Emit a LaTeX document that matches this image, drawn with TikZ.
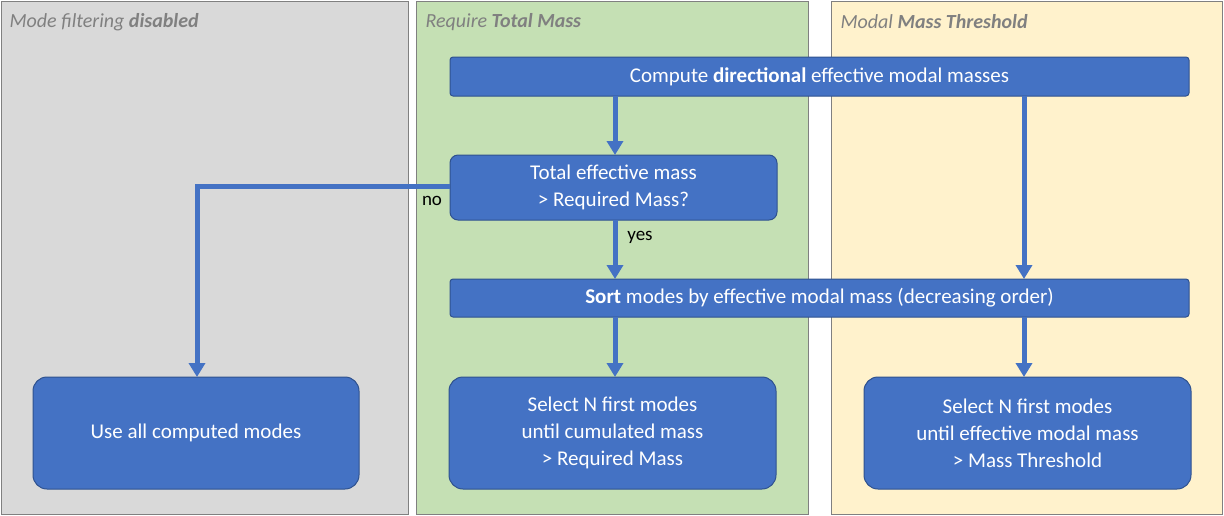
\documentclass[tikz,border=0pt]{standalone}
\usepackage{fontspec}
\setmainfont{Carlito}
\usetikzlibrary{arrows.meta}
\definecolor{bluebox}{HTML}{4472C4}
\definecolor{blueedge}{HTML}{2F528F}
\begin{document}
\begin{tikzpicture}[x=1pt,y=-1pt,
  panel/.style={draw=black!50,line width=0.8pt},
  ptitle/.style={anchor=west,text=black!50,font=\fontsize{20}{24}\selectfont\itshape},
  box/.style={draw=blueedge,fill=bluebox,line width=1pt,text=white,align=center,font=\fontsize{21}{27}\selectfont,inner sep=0pt},
  arr/.style={draw=bluebox,line width=5pt,-{Triangle[length=14pt,width=16pt]}},
  lab/.style={font=\fontsize{19}{22}\selectfont}]
\useasboundingbox (0,0) rectangle (1224,515);
\fill[black!15,panel] (1,1) rectangle (408,514);
\fill[fill={rgb,255:red,197;green,224;blue,180},panel] (416,1) rectangle (808,514);
\fill[fill={rgb,255:red,255;green,242;blue,204},panel] (831,1) rectangle (1222,514);
\node[ptitle] (t1) at (6,22) {Mode filtering \textbf{disabled}};
\node[ptitle] (t2) at (422,22) {Require \textbf{Total Mass}};
\node[ptitle] (t3) at (837,22) {Modal \textbf{Mass Threshold}};
\node[box,minimum width=739pt,minimum height=39pt,rounded corners=3pt] (top) at (819.5,76.5) {Compute \textbf{directional} effective modal masses};
\node[box,minimum width=327pt,minimum height=65pt,rounded corners=8pt] (dec) at (613.5,187.5) {Total effective mass\\> Required Mass?};
\node[box,minimum width=739pt,minimum height=38pt,rounded corners=3pt] (sort) at (819.5,298) {\textbf{Sort} modes by effective modal mass (decreasing order)};
\node[box,minimum width=326pt,minimum height=112pt,rounded corners=14pt] (all) at (196,433) {Use all computed modes};
\node[box,minimum width=327pt,minimum height=112pt,rounded corners=14pt] (sel1) at (612.5,433) {Select N first modes\\until cumulated mass\\> Required Mass};
\node[box,minimum width=327pt,minimum height=112pt,rounded corners=14pt] (sel2) at (1027.5,433) {Select N first modes\\until effective modal mass\\> Mass Threshold};
\coordinate (c1) at (197,186);
\draw[arr] (615,96) -- (615,155);
\draw[arr] (615,220) -- (615,279);
\draw[arr] (1024,96) -- (1024,279);
\draw[arr] (615,317) -- (615,377);
\draw[arr] (1024,317) -- (1024,377);
\draw[arr] (dec.west |- c1) -- (c1) -- (197,377);
\node[lab] (no) at (432,201) {no};
\node[lab] (yes) at (640,237) {yes};
\end{tikzpicture}
\end{document}
